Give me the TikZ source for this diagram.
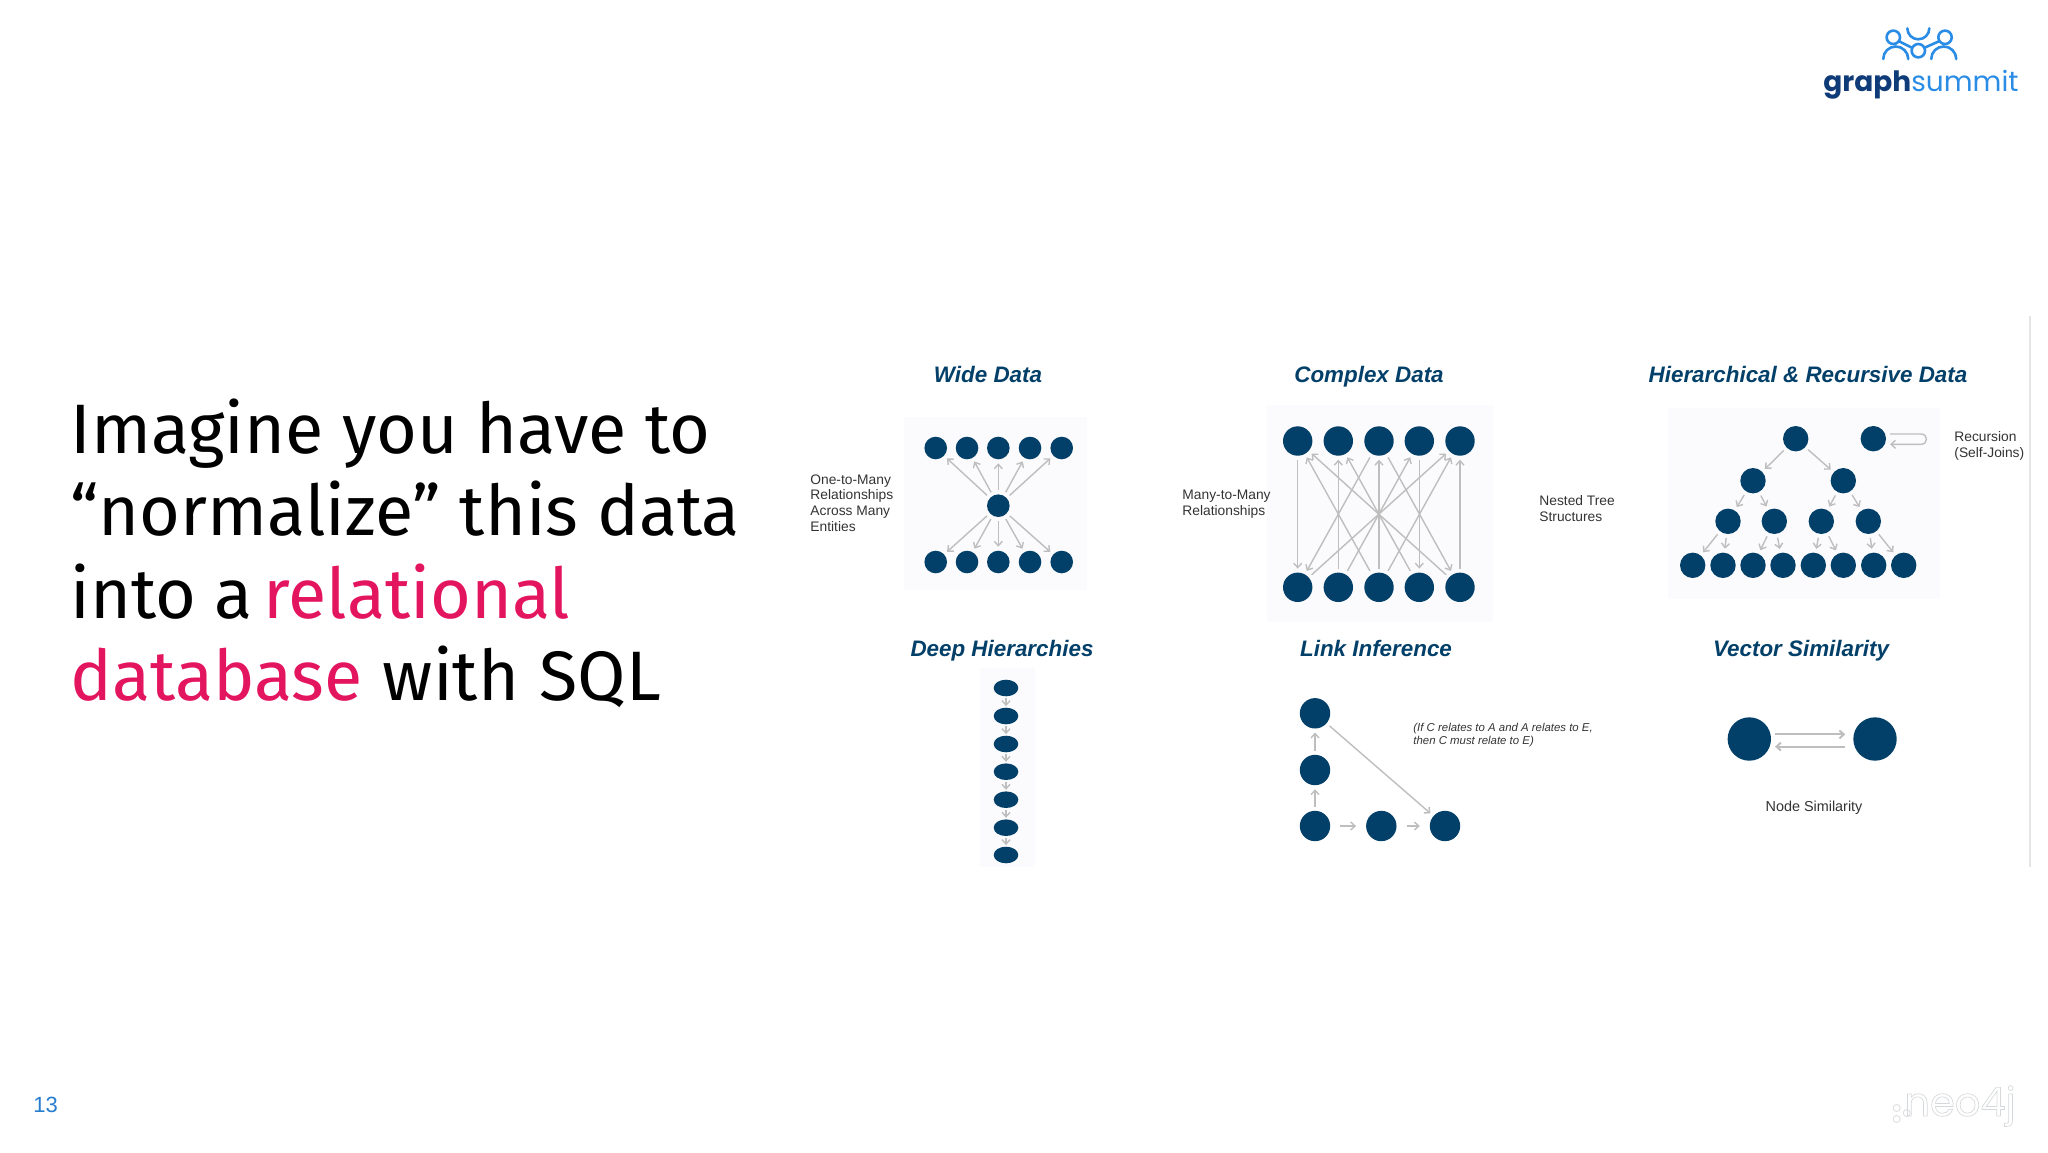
\documentclass[tikz,border=0pt]{standalone}
\usepackage{fontspec}
\setmainfont{Liberation Sans}
\newfontfamily\logofont{Poppins}
\newfontfamily\bigfont{Fira Sans}
\usetikzlibrary{arrows.meta,calc,positioning,shapes.geometric}
\definecolor{nodeblue}{HTML}{034069}
\definecolor{linkgray}{HTML}{BEBEBE}
\definecolor{panelbg}{HTML}{FBFBFD}
\definecolor{hotpink}{HTML}{E4155F}
\definecolor{logoblue}{HTML}{2B8CE6}
\definecolor{logonavy}{HTML}{0F3C78}
\newcommand{\outlinetext}[1]{\special{pdf:code 1 Tr 0.35 w 0.84 0.85 0.86 RG}#1\special{pdf:code 0 Tr}}
\tikzset{
	slide/.style={x=.5pt, y=-.5pt},
	panel/.style={fill=panelbg, draw=none},
	gnode/.style={circle, fill=nodeblue, inner sep=0pt, outer sep=2pt, minimum size=#1},
	gnode/.default=11.3pt,
	oval/.style={ellipse, fill=nodeblue, inner sep=0pt, outer sep=.8pt, minimum width=12.3pt, minimum height=8.3pt},
	ar/.style={draw=linkgray, line width=.7pt, -{Straight Barb[length=2.2pt,width=4pt]}},
	gap/.style={shorten <=3pt, shorten >=3pt},
	title/.style={font=\fontsize{11.2}{13}\selectfont\bfseries\itshape, text=nodeblue, inner sep=0pt, anchor=base},
	side/.style={font=\fontsize{6.9}{7.9}\selectfont, text=black!80, align=left, anchor=north west, inner sep=0pt},
	bigline/.style={font=\bigfont\fontsize{35}{41}\selectfont, anchor=base west, inner sep=0pt},
	logoarc/.style={draw=logoblue, line width=1.3pt, line cap=round}
}
\begin{document}
\begin{tikzpicture}[slide]
   \useasboundingbox (0,0) rectangle (2048,1152);
   % backgrounds of the small pictures
   \fill[panel] (904,417) rectangle (1087,590);
   \fill[panel] (1267,405) rectangle (1493,622);
   \fill[panel] (1668,408) rectangle (1940,599);
   \fill[panel] (980,668) rectangle (1035,867);
   \draw[black!10, line width=.6pt] (2030,316) -- (2030,867);

   % left text
   \node[bigline] (line1) at (70,453) {Imagine you have to};
   \node[bigline] (line2) at (70,535.5) {“normalize” this data};
   \node[bigline] (line3) at (70,618) {into a\hspace{-3.8pt} \textcolor{hotpink}{relational}};
   \node[bigline] (line4) at (70,700.5) {\textcolor{hotpink}{database}\hspace{1pt} with\hspace{1pt} SQL};
   \node[anchor=base west, inner sep=0pt, text=logoblue!90!black, font=\fontsize{11}{13}\selectfont] (pageno) at (33,1112) {13};

   % titles
   \node[title] (wideT) at (988,382.7) {Wide Data};
   \node[title] (complexT) at (1369,382.7) {Complex Data};
   \node[title] (hierT) at (1808,382.7) {Hierarchical \& Recursive Data};
   \node[title] (deepT) at (1002,656.7) {Deep Hierarchies};
   \node[title] (linkT) at (1376,656.7) {Link Inference};
   \node[title] (vecT) at (1801,656.7) {Vector Similarity};

   % wide data
   \node[gnode] (wc) at (998.3,505.7) {};
   \foreach \i/\x in {1/935.7,2/967,3/998.3,4/1030,5/1061.7} {
      \node[gnode] (wt\i) at (\x,448) {};
      \node[gnode] (wb\i) at (\x,562) {};
      \draw[ar] (wc) -- (wt\i);
      \draw[ar] (wc) -- (wb\i);
   }
   \node[side] (wideL) at (810,474) {One-to-Many\\Relationships\\Across Many\\Entities};

   % complex data
   \foreach \i/\x in {1/1297.7,2/1338.3,3/1379,4/1419.3,5/1460} {
      \node[gnode=14.7pt] (ct\i) at (\x,441) {};
      \node[gnode=14.7pt] (cb\i) at (\x,587.3) {};
   }
   \foreach \a/\b in {ct1/cb1,cb2/ct2,cb3/ct3,ct4/cb4,cb5/ct5,cb3/ct1,cb5/ct1,cb4/ct2,ct3/cb5,ct3/cb1,cb1/ct5,cb2/ct4,cb3/ct5}
      \draw[ar] (\a) -- (\b);
   \node[side] (complexL) at (1182,490) {Many-to-Many\\Relationships};
   \node[side] (nestedL) at (1539,495) {Nested Tree\\Structures};

   % hierarchy
   \node[gnode=12.7pt] (h0) at (1795.7,438.7) {};
   \node[gnode=12.7pt] (rec) at (1873.3,438.7) {};
   \foreach \n/\x/\y in {h1/1753/480.7,h2/1843.3/480.7,
         h3/1728/521.3,h4/1774.3/521.3,h5/1821.3/521.3,h6/1868.3/521.3,
         h7/1692.7/565.3,h8/1723/565.3,h9/1753/565.3,h10/1783/565.3,
         h11/1813.3/565.3,h12/1843.3/565.3,h13/1873.7/565.3,h14/1903.7/565.3}
      \node[gnode=12.7pt] (\n) at (\x,\y) {};
   \foreach \a/\b in {h0/h1,h0/h2,h1/h3,h1/h4,h2/h5,h2/h6,h3/h7,h3/h8,h4/h9,h4/h10,h5/h11,h5/h12,h6/h13,h6/h14}
      \draw[ar] (\a) -- (\b);
   \coordinate (recA) at (1921,434);
   \coordinate (recB) at (1921,444.3);
   \draw[ar] (rec.east |- recA) -- (recA) to[out=0,in=0,looseness=1.8] (recB) -- (rec.east |- recB);
   \node[side] (recL) at (1954,431.5) {Recursion\\(Self-Joins)};

   % deep hierarchies
   \foreach \i/\y in {1/688,2/716,3/744,4/771.7,5/799.7,6/827.7,7/855}
      \node[oval] (d\i) at (1006,\y) {};
   \foreach \i [count=\j from 2] in {1,...,6}
      \draw[ar] (d\i) -- (d\j);

   % link inference
   \node[gnode=15.2pt] (la) at (1315,713.3) {};
   \node[gnode=15.2pt] (lb) at (1315,770) {};
   \node[gnode=15.2pt] (lc) at (1315,826) {};
   \node[gnode=15.2pt] (ld) at (1381.3,826) {};
   \node[gnode=15.2pt] (le) at (1445,826) {};
   \foreach \a/\b in {lc/ld,ld/le}
      \draw[ar, gap] (\a) -- (\b);
   \foreach \a/\b in {lc/lb,lb/la,la/le}
      \draw[ar] (\a) -- (\b);
   \node[side, font=\fontsize{5.7}{6.5}\selectfont\itshape] (linkL) at (1413,723) {(If C relates to A and A relates to E,\\then C must relate to E)};

   % vector similarity
   \node[gnode=21.7pt] (va) at (1749.3,739) {};
   \node[gnode=21.7pt] (vb) at (1875,739) {};
   \draw[ar, line width=1pt, shorten >=2pt] ([yshift=2.3pt]va.east) -- ([yshift=2.3pt]vb.west);
   \draw[ar, line width=1pt, shorten <=2pt] ([yshift=-3.8pt]vb.west) -- ([yshift=-3.8pt]va.east);
   \node[side, anchor=center, font=\fontsize{7.2}{8}\selectfont] (vecL) at (1814,808) {Node Similarity};

   % logo top right
   \draw[logoarc] (1893.3,37.3) circle (6.7);
   \draw[logoarc] (1945,37.3) circle (6.7);
   \draw[logoarc] (1918.3,50.7) circle (6.7);
   \draw[logoarc] (1907.3,28.3) arc[start angle=180, end angle=360, x radius=11, y radius=-11];
   \draw[logoarc] (1883.2,59) arc[start angle=180, end angle=0, x radius=12.5, y radius=-12.5];
   \draw[logoarc] (1931.2,59) arc[start angle=180, end angle=0, x radius=12.5, y radius=-12.5];
   \draw[logoarc] (1899.5,41.5) -- (1911.5,47.5);
   \draw[logoarc] (1925,47.5) -- (1938.5,41.5);
   \node[anchor=base west, inner sep=0pt, font=\logofont\fontsize{14}{18}\selectfont] (logoT) at (1823,91) {\textcolor{logonavy}{\bfseries graph}\textcolor{logoblue}{summit}};

   % logo bottom right
   \foreach \i/\x/\y in {1/1896.7/1108,2/1896.7/1119,3/1906.7/1113}
      \draw[blue!8!black!12, line width=.5pt] (\x,\y) circle (3.5);
   \node[anchor=base west, inner sep=0pt, font=\logofont\fontsize{20}{24}\selectfont] (neoT) at (1904,1116) {\outlinetext{neo4j}};
\end{tikzpicture}
\end{document}
